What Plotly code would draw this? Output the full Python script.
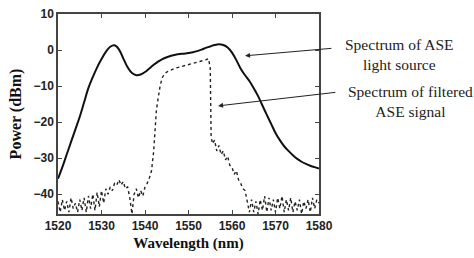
import plotly.graph_objects as go

# ASE light source spectrum (solid)
ase_wl = [1520, 1521, 1522, 1523, 1524, 1525, 1526, 1527, 1528, 1529, 1530, 1531, 1532, 1533,
          1534, 1535, 1536, 1537, 1538, 1539, 1540, 1541, 1542, 1543, 1544, 1545, 1546, 1547,
          1548, 1549, 1550, 1551, 1552, 1553, 1554, 1555, 1556, 1557, 1558, 1559, 1560, 1561,
          1562, 1563, 1564, 1565, 1566, 1567, 1568, 1569, 1570, 1571, 1572, 1573, 1574, 1575,
          1576, 1577, 1578, 1579, 1580]
ase_pw = [-35.7, -32.5, -29.0, -25.5, -22.0, -18.5, -14.5, -10.5, -7.5, -4.8, -2.5, -0.5, 0.9, 1.3,
          0.2, -2.3, -4.8, -6.4, -7.0, -6.8, -6.1, -5.1, -4.1, -3.2, -2.5, -2.0, -1.6, -1.3,
          -1.1, -1.0, -0.8, -0.6, -0.3, 0.1, 0.6, 1.0, 1.4, 1.6, 1.4, 0.7, -0.7, -2.8,
          -5.2, -7.0, -8.6, -10.6, -12.8, -15.4, -18.0, -20.5, -23.0, -25.0, -26.7, -28.0, -29.2, -30.2,
          -31.0, -31.6, -32.1, -32.5, -32.9]

# Filtered ASE signal spectrum (dotted)
flt_wl = [1520, 1520.5, 1521, 1521.5, 1522, 1522.5, 1523, 1523.5, 1524, 1524.5, 1525, 1525.5,
          1526, 1526.5, 1527, 1527.5, 1528, 1528.5, 1529, 1529.5, 1530, 1530.5, 1531, 1531.5,
          1532, 1532.5, 1533, 1533.5, 1534, 1534.5, 1535, 1535.5, 1536, 1536.5, 1537, 1537.5,
          1538, 1538.5, 1539, 1539.5, 1540, 1540.5, 1541, 1541.5, 1542, 1542.3, 1542.6, 1543,
          1543.5, 1544, 1544.5, 1545, 1546, 1547, 1548, 1549, 1550, 1551, 1552, 1553, 1554,
          1554.6, 1555.0, 1555.2, 1555.5, 1556, 1556.5, 1557, 1557.5, 1558, 1558.5, 1559, 1559.5,
          1560, 1560.5, 1561, 1561.5, 1562, 1562.5, 1563, 1563.5, 1564, 1564.5, 1565, 1565.5,
          1566, 1566.5, 1567, 1567.5, 1568, 1568.5, 1569, 1569.5, 1570, 1570.5, 1571, 1571.5,
          1572, 1572.5, 1573, 1573.5, 1574, 1574.5, 1575, 1575.5, 1576, 1576.5, 1577, 1577.5,
          1578, 1578.5, 1579, 1579.5, 1580]
flt_pw = [-42, -45, -41.5, -44.5, -42, -45, -41, -44, -42.5, -45, -41.5, -44.5,
          -41, -45, -40.5, -44, -40, -44.5, -39.5, -43.5, -39, -42.5, -38.5, -40,
          -38, -39, -37, -37.5, -36, -37.5, -36.5, -38.5, -38, -41, -45.5, -40,
          -38.5, -41, -39, -40.5, -38, -37, -35.5, -33.5, -28, -22, -17, -13.5,
          -9.8, -7.6, -6.6, -6.1, -5.5, -5.0, -4.7, -4.4, -4.0, -3.7, -3.3, -3.0, -2.7,
          -2.4, -5, -24, -26, -25, -28, -26.5, -29, -28, -30.5, -29.5, -32,
          -32.5, -34.5, -33.5, -36, -37, -38.5, -39, -42, -45, -41.5, -45, -42,
          -45.5, -41.5, -44.5, -40.5, -45, -41, -44.5, -41.5, -45, -41, -44, -40.5,
          -45, -41.5, -44.5, -41, -45, -42, -44.5, -41.5, -45.5, -42, -44, -41.5,
          -45, -41, -44, -41.5, -42.5]

x_ticks = [1520, 1530, 1540, 1550, 1560, 1570, 1580]
y_ticks = [-40, -30, -20, -10, 0, 10]

label_src = "Spectrum of ASE<br>light source"
label_flt = "Spectrum of filtered<br>ASE signal"

fig = go.Figure()
fig.add_trace(go.Scatter(x=flt_wl, y=flt_pw, mode="lines",
                         line=dict(color="#222", width=1.4, dash="dot"), showlegend=False))
fig.add_trace(go.Scatter(x=ase_wl, y=ase_pw, mode="lines", line_shape="spline",
                         line=dict(color="#111", width=2), showlegend=False))

axis_common = dict(showline=True, linecolor="#444", linewidth=1.5, mirror="ticks",
                   ticks="inside", ticklen=4, tickcolor="#444", showgrid=False, zeroline=False,
                   tickfont=dict(family="Liberation Sans", size=12, color="#222", weight="bold"))

fig.update_xaxes(range=[1520, 1580], tickvals=x_ticks,
                 title=dict(text="<b>Wavelength (nm)</b>", standoff=5,
                            font=dict(family="Liberation Serif", size=15, color="#111")),
                 **axis_common)
fig.update_yaxes(range=[-45.5, 10], tickvals=y_ticks,
                 title=dict(text="<b>Power (dBm)</b>", standoff=8,
                            font=dict(family="Liberation Serif", size=16, color="#111")),
                 **axis_common)

ann_font = dict(family="Liberation Serif", size=15.5, color="#222")
fig.add_annotation(x=1.310, y=0.797, xref="paper", yref="paper", text=label_src, showarrow=False,
                   font=ann_font, align="center", xanchor="center", yanchor="middle")
fig.add_annotation(x=1.349, y=0.563, xref="paper", yref="paper", text=label_flt, showarrow=False,
                   font=ann_font, align="center", xanchor="center", yanchor="middle")
fig.add_annotation(x=1563.0, y=-1.6, ax=1583.2, ay=0.5, xref="x", yref="y", axref="x", ayref="y",
                   text="", showarrow=True, arrowhead=2, arrowsize=1, arrowwidth=1, arrowcolor="#222")
fig.add_annotation(x=1556.8, y=-15.5, ax=1584.1, ay=-11.7, xref="x", yref="y", axref="x", ayref="y",
                   text="", showarrow=True, arrowhead=2, arrowsize=1, arrowwidth=1, arrowcolor="#222")

fig.update_layout(width=474, height=258, margin=dict(l=58, r=155, t=7, b=44),
                  plot_bgcolor="white", paper_bgcolor="white")

fig.write_html("out.html")
